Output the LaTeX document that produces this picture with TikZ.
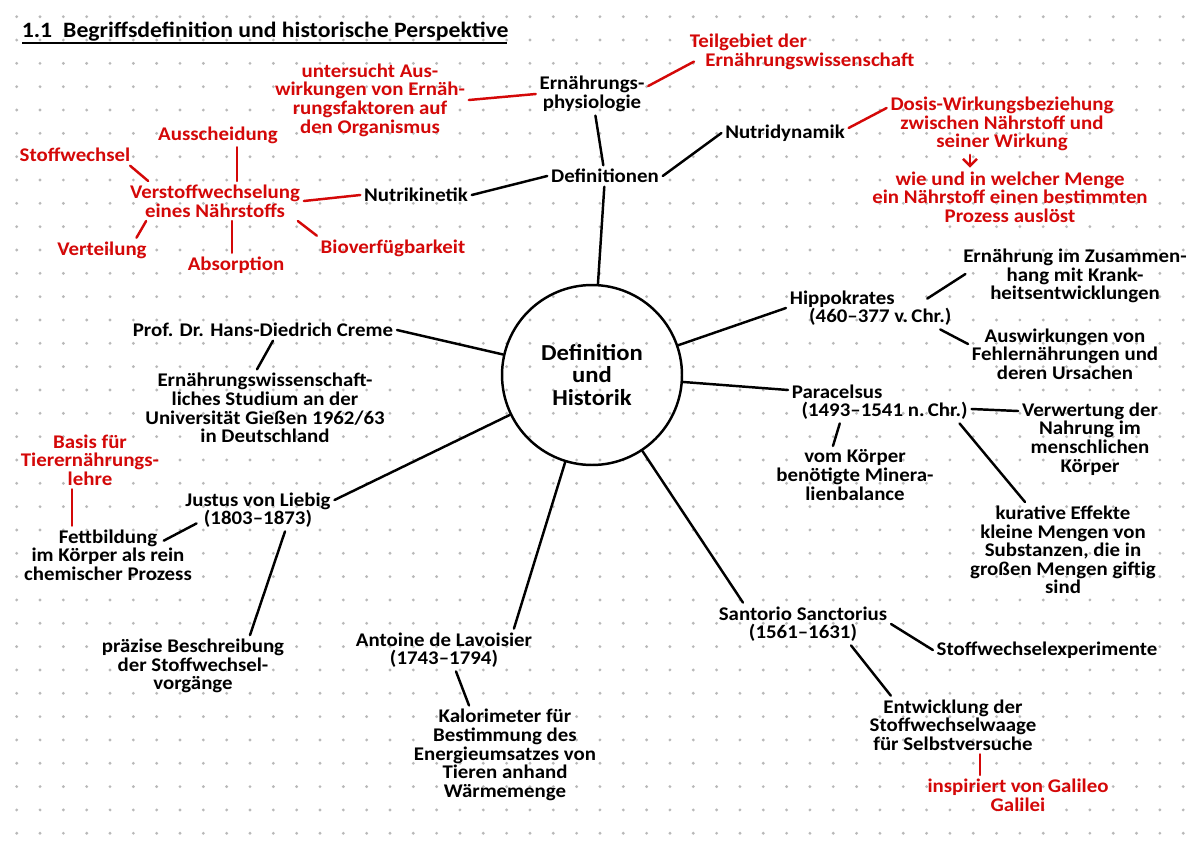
\documentclass[tikz,border=0pt]{standalone}
\usepackage{fontspec}
\setmainfont{Carlito}[FakeStretch=1.08]
\usetikzlibrary{arrows.meta}
\definecolor{penred}{RGB}{212,8,8}
\definecolor{dotgray}{RGB}{185,185,185}
\tikzset{
  ink/.style={align=center, inner sep=2pt, font=\bfseries\fontsize{11}{10.6}\selectfont},
  note/.style={ink, text=penred},
  link/.style={line width=1.4pt, line cap=round},
  rlink/.style={link, draw=penred},
}

\begin{document}
\begin{tikzpicture}[x=0.02cm, y=-0.02cm]
  \useasboundingbox (0,0) rectangle (1200,849);
  \fill[white] (0,0) rectangle (1200,849);
  \foreach \i in {0,...,50}
    \foreach \j in {0,...,35}
      \fill[dotgray] (16.7+23.33*\i,16.7+23.33*\j) circle (0.9pt);

  % heading
  \node[ink, anchor=west, font=\bfseries\fontsize{12.5}{12}\selectfont] (title) at (18,32)
    {1.1\enspace Begriffsdefinition und historische Perspektive};
  \coordinate (ulA) at (22,43);
  \coordinate (ulB) at (507,43);
  \draw[line width=1.3pt] (ulA) -- (ulB);

  % centre
  \node[draw, circle, line width=1.4pt, minimum size=3.6cm, ink,
        font=\bfseries\fontsize{13}{13}\selectfont] (hub) at (592,375) {Definition\\und\\Historik};

  % definitions
  \node[ink] (defs) at (605,176) {Definitionen};
  \node[ink] (ephys) at (592,94) {Ernährungs-\\physiologie};
  \node[ink] (ndyn) at (785,133) {Nutridynamik};
  \node[ink] (nkin) at (416,195) {Nutrikinetik};
  \node[note, align=left, anchor=west] (ephys1) at (686,52)
    {Teilgebiet der\\\hspace*{0.8em}Ernährungswissenschaft};
  \node[note] (ephys2) at (370,100)
    {untersucht Aus-\\wirkungen von Ernäh-\\rungsfaktoren auf\\den Organismus};
  \node[note] (ndyn1) at (1002,124)
    {Dosis-Wirkungsbeziehung\\zwischen Nährstoff und\\seiner Wirkung};
  \node[note] (ndyn2) at (1010,197)
    {wie und in welcher Menge\\ein Nährstoff einen bestimmten\\Prozess auslöst};
  \node[note] (nkin1) at (215,201) {Verstoffwechselung\\eines Nährstoffs};
  \node[note] (aussch) at (218,135) {Ausscheidung};
  \node[note] (stoffw) at (75,155) {Stoffwechsel};
  \node[note] (verteil) at (102,250) {Verteilung};
  \node[note] (absorp) at (236,265) {Absorption};
  \node[note] (biov) at (393,248) {Bioverfügbarkeit};

  \draw[link] (hub) -- (defs);
  \draw[link] (defs) -- (ephys);
  \draw[link] (defs.east) -- (ndyn.west);
  \draw[link] (defs.west) -- (nkin.east);
  \draw[rlink] (ephys.west) -- (ephys2.east);
  \draw[rlink] ([shift={(0,-8)}]ephys.east) -- ([shift={(8,-12)}]ephys1.south west);
  \draw[rlink] ([shift={(0,-5)}]ndyn.east) -- ([shift={(0,-16)}]ndyn1.west);
  \draw[rlink, -{Straight Barb[length=4pt]}] ([shift={(-32,0)}]ndyn1.south) -- ([shift={(-40,0)}]ndyn2.north);
  \draw[rlink] (nkin.west) -- (nkin1.east);
  \draw[rlink] ([shift={(19,0)}]aussch.south) -- ([shift={(22,0)}]nkin1.north);
  \draw[rlink] ([shift={(-4,0)}]stoffw.south east) -- ([shift={(22,0)}]nkin1.north west);
  \draw[rlink] ([shift={(20,0)}]nkin1.south west) -- ([shift={(-14,0)}]verteil.north east);
  \draw[rlink] ([shift={(17,0)}]nkin1.south) -- ([shift={(-4,0)}]absorp.north);
  \draw[rlink] ([shift={(-6,0)}]nkin1.south east) -- (biov.north west);

  % history
  \node[ink] (creme) at (263,330) {Prof. Dr. Hans-Diedrich Creme};
  \node[ink] (creme1) at (265,408)
    {Ernährungswissenschaft-\\liches Studium an der\\Universität Gießen 1962/63\\in Deutschland};
  \node[ink, align=left, anchor=west] (hippo) at (786,308)
    {Hippokrates\\\hspace*{1em}(460--377 v.\,Chr.)};
  \node[ink] (hippo1) at (1075,276)
    {Ernährung im Zusammen-\\hang mit Krank-\\heitsentwicklungen};
  \node[ink] (hippo2) at (1065,354)
    {Auswirkungen von\\Fehlernährungen und\\deren Ursachen};
  \node[ink, align=left, anchor=west] (para) at (788,402)
    {Paracelsus\\\hspace*{0.5em}(1493--1541 n.\,Chr.)};
  \node[ink] (para1) at (1090,439) {Verwertung der\\Nahrung im\\menschlichen\\Körper};
  \node[ink] (para2) at (855,475) {vom Körper\\benötigte Minera-\\lienbalance};
  \node[ink] (para3) at (1063,550)
    {kurative Effekte\\kleine Mengen von\\Substanzen, die in\\großen Mengen giftig\\sind};
  \node[ink] (sant) at (803,624) {Santorio Sanctorius\\(1561--1631)};
  \node[ink] (sant1) at (1047,650) {Stoffwechselexperimente};
  \node[ink] (sant2) at (953,725) {Entwicklung der\\Stoffwechselwaage\\für Selbstversuche};
  \node[note] (sant3) at (1018,795) {inspiriert von Galileo\\Galilei};
  \node[ink] (lavo) at (444,650) {Antoine de Lavoisier\\(1743--1794)};
  \node[ink] (lavo1) at (505,755)
    {Kalorimeter für\\Bestimmung des\\Energieumsatzes von\\Tieren anhand\\Wärmemenge};
  \node[ink] (liebig) at (258,510) {Justus von Liebig\\(1803--1873)};
  \node[ink] (liebig1) at (108,555) {Fettbildung\\im Körper als rein\\chemischer Prozess};
  \node[ink] (liebig2) at (193,666) {präzise Beschreibung\\der Stoffwechsel-\\vorgänge};
  \node[note] (liebig3) at (90,460) {Basis für\\Tierernährungs-\\lehre};

  \draw[link] (hub) -- (creme.east);
  \draw[link] ([shift={(10,0)}]creme.south) -- ([shift={(-8,0)}]creme1.north);
  \draw[link] (hub) -- (hippo.west);
  \draw[link] ([shift={(-28,12)}]hippo.north east) -- ([shift={(6,-2)}]hippo1.west);
  \draw[link] ([shift={(-15,0)}]hippo.south east) -- ([shift={(0,-10)}]hippo2.west);
  \draw[link] (hub) -- ([shift={(0,-12)}]para.west);
  \draw[link] ([shift={(0,7)}]para.east) -- ([shift={(0,-28)}]para1.west);
  \draw[link] ([shift={(-40,0)}]para.south) -- ([shift={(-22,0)}]para2.north);
  \draw[link] ([shift={(-12,0)}]para.south east) -- ([shift={(-38,0)}]para3.north);
  \draw[link] (hub) -- ([shift={(28,0)}]sant.north west);
  \draw[link] (sant.east) -- (sant1.west);
  \draw[link] ([shift={(-40,0)}]sant.south east) -- ([shift={(25,0)}]sant2.north west);
  \draw[rlink] ([shift={(27,0)}]sant2.south) -- ([shift={(-38,0)}]sant3.north);
  \draw[link] (hub) -- ([shift={(-22,0)}]lavo.north east);
  \draw[link] ([shift={(12,0)}]lavo.south) -- ([shift={(-36,0)}]lavo1.north);
  \draw[link] (hub) -- ([shift={(0,-10)}]liebig.east);
  \draw[link] ([shift={(15,-8)}]liebig.south west) -- ([shift={(-32,15)}]liebig1.north east);
  \draw[link] ([shift={(27,0)}]liebig.south) -- ([shift={(57,0)}]liebig2.north);
  \draw[rlink] ([shift={(-36,0)}]liebig1.north) -- ([shift={(-18,0)}]liebig3.south);
\end{tikzpicture}
\end{document}
